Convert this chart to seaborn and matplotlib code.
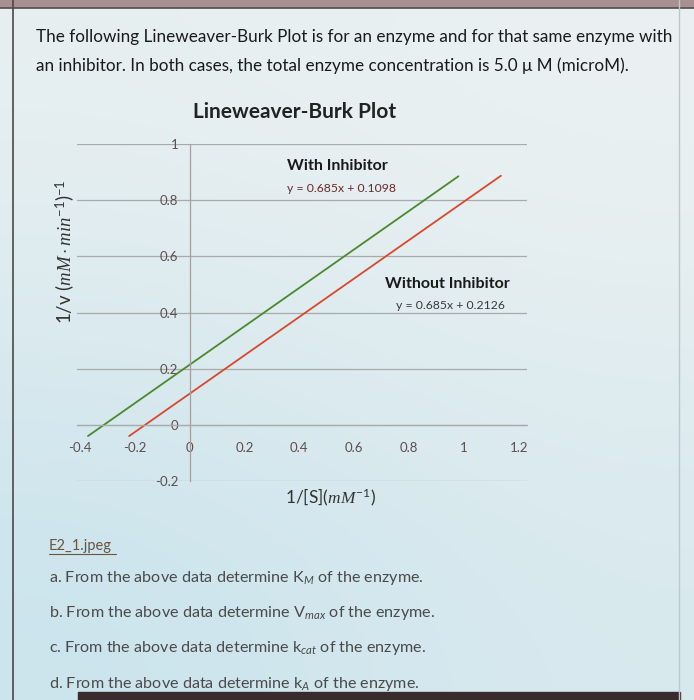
import numpy as np
import pandas as pd
import seaborn as sns
import matplotlib.pyplot as plt
from matplotlib.patches import Rectangle

# values
x_ticks = [-0.4, -0.2, 0, 0.2, 0.4, 0.6, 0.8, 1, 1.2]
y_ticks = [-0.2, 0, 0.2, 0.4, 0.6, 0.8, 1]
green_x = [-0.37, 0.98]
green_y = [-0.04, 0.885]
red_x = [-0.22, 1.135]
red_y = [-0.04, 0.887]

label_with = "With Inhibitor"
eq_with = "y = 0.685x + 0.1098"
label_without = "Without Inhibitor"
eq_without = "y = 0.685x + 0.2126"

intro = ["The following Lineweaver-Burk Plot is for an enzyme and for that same enzyme with",
         "an inhibitor. In both cases, the total enzyme concentration is 5.0 \u03bc M (microM)."]
questions = ["a. From the above data determine K$_{\\mathsf{M}}$ of the enzyme.",
             "b. From the above data determine V$_{\\mathsf{max}}$ of the enzyme.",
             "c. From the above data determine k$_{\\mathsf{cat}}$ of the enzyme.",
             "d. From the above data determine k$_{\\mathsf{A}}$ of the enzyme."]

sns.set_theme(style="white")
plt.rcParams['font.family'] = ['Lato', 'DejaVu Sans']
plt.rcParams['mathtext.fontset'] = 'custom'
plt.rcParams['mathtext.rm'] = 'Lato'
plt.rcParams['mathtext.it'] = 'Liberation Serif:italic'
plt.rcParams['mathtext.sf'] = 'Lato:italic'

W, H = 694, 700
fig = plt.figure(figsize=(W / 100, H / 100), dpi=100)

def px(x, y):
    return x / W, 1 - y / H

# photo-ish background
bg = fig.add_axes([0, 0, 1, 1], zorder=-10)
grad = np.array([[0.93, 0.95], [0.80, 0.86]])
cmap = sns.blend_palette(["#c6e2ec", "#eef2f2"], as_cmap=True)
bg.imshow(grad, cmap=cmap, vmin=0.78, vmax=0.96, aspect='auto', interpolation='bicubic',
          extent=[0, 1, 0, 1])
bg.set_xlim(0, 1)
bg.set_ylim(0, 1)
bg.axis('off')
bg.add_patch(Rectangle((0, 1 - 7 / H), 1, 7 / H, color="#a89090"))
bg.axhline(1 - 8 / H, color="#505050", lw=1.2)
bg.axvline(13 / W, color="#4a4a4a", lw=1.2)
bg.axvline(679 / W, color="#b9c9cc", lw=1.0)
bg.add_patch(Rectangle((78 / W, 0), 602 / W, 8 / H, color="#3a2c2c"))

# header text
fig.text(*px(36, 37), intro[0], fontsize=12.35, color="#1a1a1a", va='center', ha='left')
fig.text(*px(36, 66), intro[1], fontsize=12.35, color="#1a1a1a", va='center', ha='left')
fig.text(*px(295, 112), "Lineweaver-Burk Plot", fontsize=15, fontweight='bold',
         color="#222222", va='center', ha='center')

# chart
ax = fig.add_axes([77 / W, 1 - 481 / H, 450 / W, 337 / H])
ax.patch.set_alpha(0)
df = pd.DataFrame({'x': green_x + red_x,
                   'y': green_y + red_y,
                   'series': ['green'] * len(green_x) + ['red'] * len(red_x)})
sns.lineplot(data=df, x='x', y='y', hue='series', palette={'green': '#4a8a2c', 'red': '#d9482b'},
             legend=False, lw=1.3, ax=ax)

ax.set_xlim(-0.41, 1.23)
ax.set_ylim(-0.2, 1.0)
ax.set_xticks(x_ticks)
ax.set_xticklabels([f'{v:g}' for v in x_ticks])
ax.set_yticks(y_ticks)
ax.set_yticklabels([f'{v:g}' for v in y_ticks])
ax.spines['left'].set_position(('data', 0))
ax.spines['bottom'].set_position(('data', 0))
ax.spines['right'].set_visible(False)
ax.spines['top'].set_visible(False)
ax.spines['left'].set_color('#a0a0a0')
ax.spines['bottom'].set_color('#aaaaaa')
ax.spines['left'].set_linewidth(0.9)
ax.spines['bottom'].set_linewidth(0.9)
ax.yaxis.grid(True, color='#aaaaaa', lw=0.9)
ax.xaxis.grid(False)
ax.tick_params(axis='x', length=0, pad=12, labelsize=9.5, labelcolor='#5e4e4e')
ax.tick_params(axis='y', length=0, pad=8, labelsize=9.5, labelcolor='#5e4e4e')
ax.set_xlabel('')
ax.set_ylabel('')

ax.text(0.54, 0.92, label_with, fontsize=11.5, fontweight='bold', color='#1a1a1a',
        ha='center', va='center')
ax.text(0.555, 0.843, eq_with, fontsize=8.8, color='#6a2a2a', ha='center', va='center')
ax.text(0.94, 0.50, label_without, fontsize=11.5, fontweight='bold', color='#1a1a1a',
        ha='center', va='center')
ax.text(0.95, 0.425, eq_without, fontsize=8.8, color='#3a3a3a', ha='center', va='center')

fig.text(*px(331, 497), "1/[S]$(mM^{-1})$", fontsize=12.5, color='#333333',
         ha='center', va='center')
fig.text(*px(65, 252), "1/v $(mM \\cdot min^{-1})^{-1}$", fontsize=13.5, color='#333333',
         ha='center', va='center', rotation=90)

# file link and questions
fig.text(*px(49, 546), "E2_1.jpeg", fontsize=10.5, color='#6a5540', ha='left', va='center')
bg.plot([49 / W, 116 / W], [1 - 554 / H, 1 - 554 / H], color='#6a5540', lw=0.8)
for q, yy in zip(questions, [578, 613, 648, 684]):
    fig.text(*px(49, yy), q, fontsize=11.6, color='#4a4a4a', ha='left', va='center')

fig.savefig('out.png', dpi=100)
